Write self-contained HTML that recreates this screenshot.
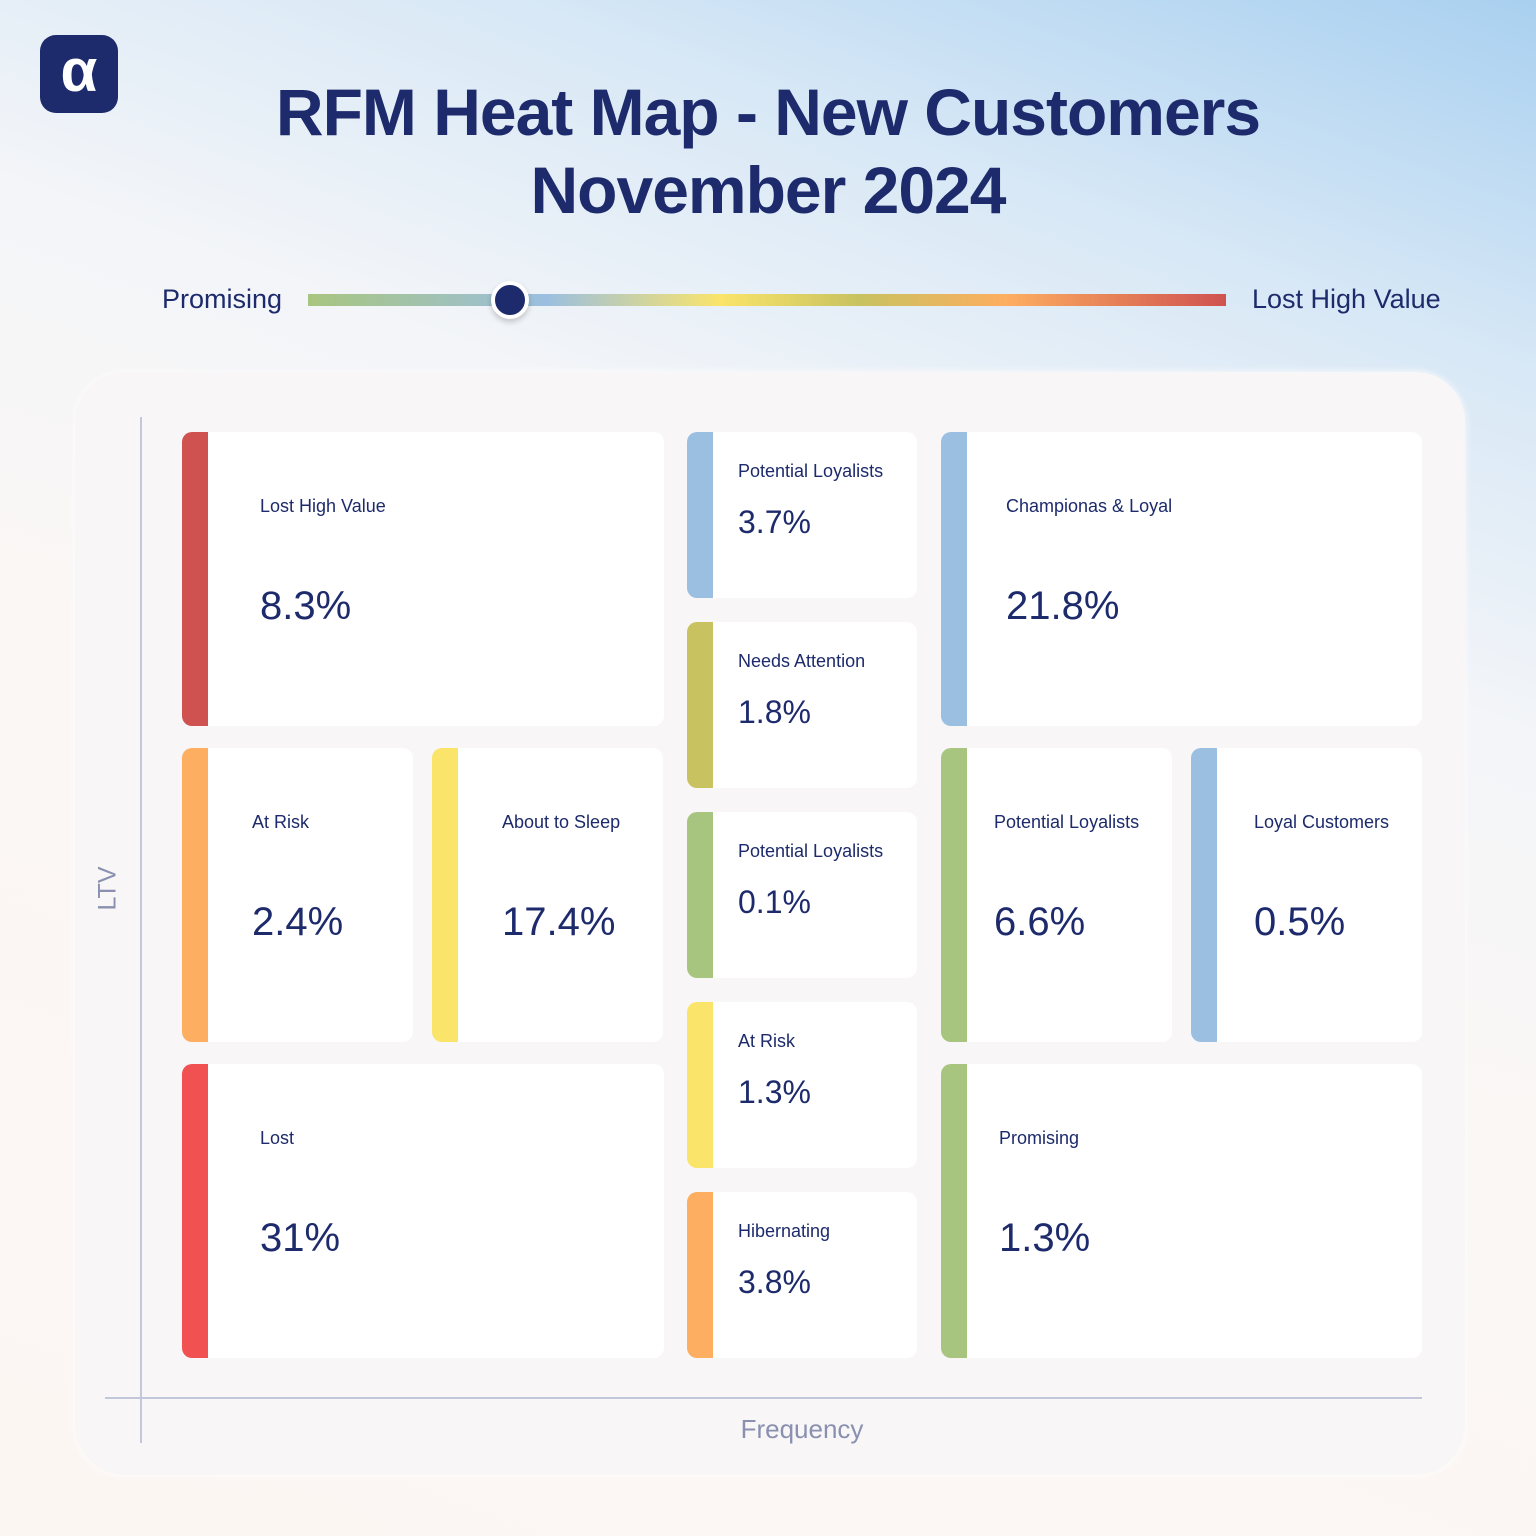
<!DOCTYPE html>
<html><head><style>
*{margin:0;padding:0;box-sizing:border-box}
body{width:1536px;height:1536px;position:relative;overflow:hidden;font-family:"Liberation Sans",sans-serif;color:#1d2a6b;
background:linear-gradient(200deg,#a9d0f0 0%,#d8e8f6 18%,#f3f5f8 35%,#fbf7f5 55%,#fcf6f3 100%)}
.a{position:absolute}
.logo{left:40px;top:35px;width:78px;height:78px;border-radius:16px;background:#1d2a6b;color:#fff;font-size:60px;text-align:center;line-height:72px;font-weight:bold}
.title{left:0;width:1536px;text-align:center;font-size:66px;font-weight:bold;letter-spacing:-1px;line-height:78px;top:73px}
.lab{font-size:27px;top:284px}
.bar{left:308px;top:294px;width:918px;height:12px;background:linear-gradient(90deg,#a8c57f 0%,#9bbfe0 26%,#fae46a 45%,#c8c260 60%,#fdae60 76%,#cf5250 100%)}
.knob{left:491px;top:281px;width:38px;height:38px;border-radius:50%;background:#1d2a6b;border:4px solid #fff;box-shadow:0 3px 6px rgba(0,0,0,.2)}
.panel{left:75px;top:372px;width:1390px;height:1103px;border-radius:50px;background:#f8f6f6;box-shadow:0 0 8px rgba(255,255,255,.9)}
.card{position:absolute;background:#fff;border-radius:10px;overflow:hidden}
.card .s{position:absolute;left:0;top:0;bottom:0;width:26px}
.card .l{position:absolute;font-size:18px;white-space:nowrap}
.card .v{position:absolute;white-space:nowrap}
</style></head><body>
<div class="a logo">α</div>
<div class="a title">RFM Heat Map - New Customers<br>November 2024</div>
<div class="a lab" style="left:162px">Promising</div>
<div class="a lab" style="left:1252px">Lost High Value</div>
<div class="a bar"></div>
<div class="a knob"></div>
<div class="a panel"></div>
<div class="a" style="left:140px;top:417px;width:2px;height:1026px;background:#c3c7dc"></div>
<div class="a" style="left:105px;top:1397px;width:1317px;height:2px;background:#c3c7dc"></div>
<div class="a" style="left:68px;top:874px;width:80px;text-align:center;transform:rotate(-90deg);font-size:25px;color:#8a90b0">LTV</div>
<div class="a" style="left:702px;top:1414px;width:200px;text-align:center;font-size:26px;color:#8a90b0">Frequency</div>

<div class="card" style="left:182px;top:432px;width:482px;height:294px"><div class="s" style="background:#cf5250"></div><div class="l" style="left:78px;top:64px">Lost High Value</div><div class="v" style="left:78px;top:152px;font-size:40px">8.3%</div></div>
<div class="card" style="left:687px;top:432px;width:230px;height:166px"><div class="s" style="background:#9bbfe0"></div><div class="l" style="left:51px;top:29px">Potential Loyalists</div><div class="v" style="left:51px;top:72px;font-size:32px">3.7%</div></div>
<div class="card" style="left:941px;top:432px;width:481px;height:294px"><div class="s" style="background:#9bbfe0"></div><div class="l" style="left:65px;top:64px">Championas &amp; Loyal</div><div class="v" style="left:65px;top:152px;font-size:40px">21.8%</div></div>
<div class="card" style="left:687px;top:622px;width:230px;height:166px"><div class="s" style="background:#c8c260"></div><div class="l" style="left:51px;top:29px">Needs Attention</div><div class="v" style="left:51px;top:72px;font-size:32px">1.8%</div></div>
<div class="card" style="left:182px;top:748px;width:231px;height:294px"><div class="s" style="background:#fdae60"></div><div class="l" style="left:70px;top:64px">At Risk</div><div class="v" style="left:70px;top:152px;font-size:40px">2.4%</div></div>
<div class="card" style="left:432px;top:748px;width:231px;height:294px"><div class="s" style="background:#fae46a"></div><div class="l" style="left:70px;top:64px">About to Sleep</div><div class="v" style="left:70px;top:152px;font-size:40px">17.4%</div></div>
<div class="card" style="left:687px;top:812px;width:230px;height:166px"><div class="s" style="background:#a8c57f"></div><div class="l" style="left:51px;top:29px">Potential Loyalists</div><div class="v" style="left:51px;top:72px;font-size:32px">0.1%</div></div>
<div class="card" style="left:941px;top:748px;width:231px;height:294px"><div class="s" style="background:#a8c57f"></div><div class="l" style="left:53px;top:64px">Potential Loyalists</div><div class="v" style="left:53px;top:152px;font-size:40px">6.6%</div></div>
<div class="card" style="left:1191px;top:748px;width:231px;height:294px"><div class="s" style="background:#9bbfe0"></div><div class="l" style="left:63px;top:64px">Loyal Customers</div><div class="v" style="left:63px;top:152px;font-size:40px">0.5%</div></div>
<div class="card" style="left:687px;top:1002px;width:230px;height:166px"><div class="s" style="background:#fae46a"></div><div class="l" style="left:51px;top:29px">At Risk</div><div class="v" style="left:51px;top:72px;font-size:32px">1.3%</div></div>
<div class="card" style="left:182px;top:1064px;width:482px;height:294px"><div class="s" style="background:#f25151"></div><div class="l" style="left:78px;top:64px">Lost</div><div class="v" style="left:78px;top:152px;font-size:40px">31%</div></div>
<div class="card" style="left:687px;top:1192px;width:230px;height:166px"><div class="s" style="background:#fdae60"></div><div class="l" style="left:51px;top:29px">Hibernating</div><div class="v" style="left:51px;top:72px;font-size:32px">3.8%</div></div>
<div class="card" style="left:941px;top:1064px;width:481px;height:294px"><div class="s" style="background:#a8c57f"></div><div class="l" style="left:58px;top:64px">Promising</div><div class="v" style="left:58px;top:152px;font-size:40px">1.3%</div></div>
</body></html>
